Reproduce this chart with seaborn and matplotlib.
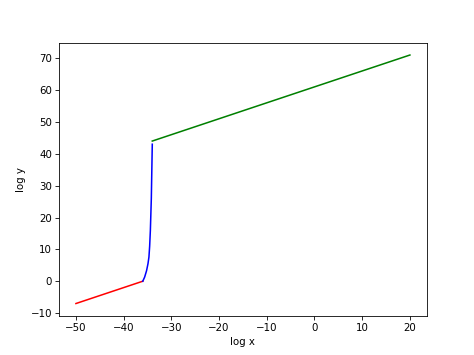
import matplotlib
matplotlib.use("Agg")
import matplotlib.pyplot as plt
import seaborn as sns

red_x = [-50, -36]
red_y = [-7, 0]

blue_x = [-36, -35.9, -35.6, -35.2, -34.9, -34.7, -34.55, -34.4, -34.2, -34.0]
blue_y = [0, 0.3, 1.3, 3.3, 5.5, 7.6, 11, 16, 26, 43]

green_x = [-34, 20]
green_y = [44, 71]

fig, ax = plt.subplots(figsize=(474 / 74, 355 / 74), dpi=74)
sns.lineplot(x=red_x, y=red_y, color="red", ax=ax, estimator=None)
sns.lineplot(x=blue_x, y=blue_y, color="blue", ax=ax, estimator=None)
sns.lineplot(x=green_x, y=green_y, color="green", ax=ax, estimator=None)
ax.set_xlabel("log x")
ax.set_ylabel("log y")
fig.savefig("out.png", dpi=74)
